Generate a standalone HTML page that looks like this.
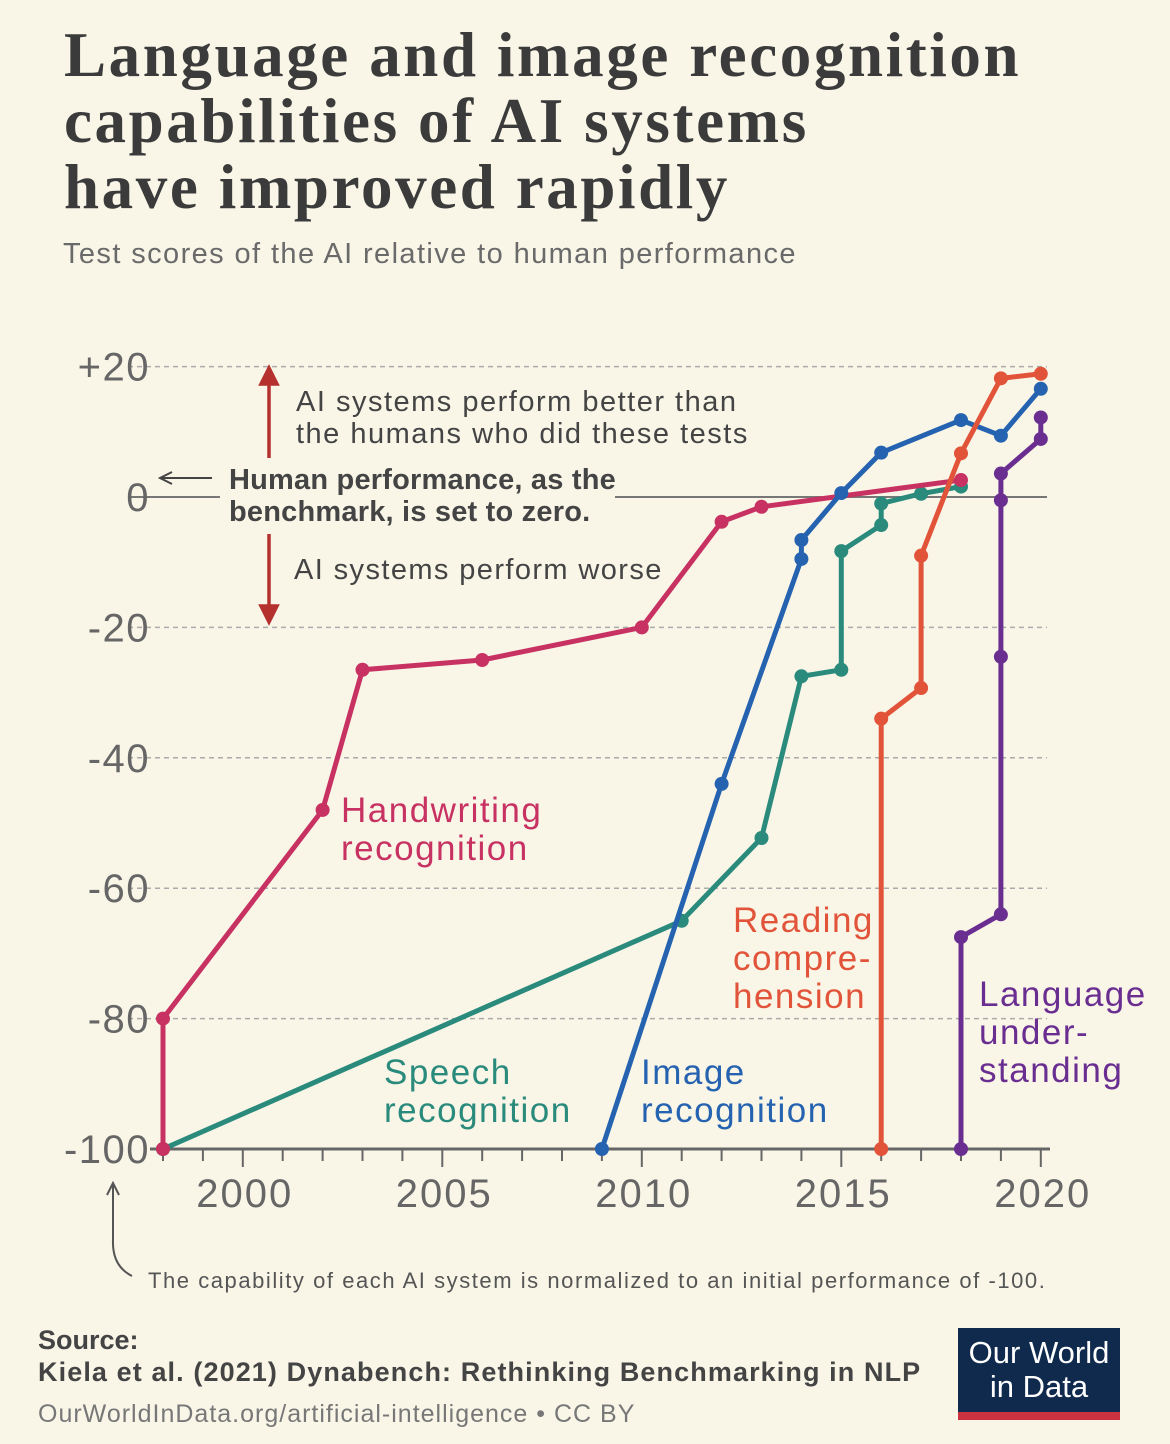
<!DOCTYPE html>
<html><head><meta charset="utf-8"><style>
body{margin:0;background:#f9f6e8;}
#root{position:relative;width:1170px;height:1444px;background:#f9f6e8;font-family:"Liberation Sans",sans-serif;overflow:hidden}
.t{position:absolute;margin:0}
</style></head><body>
<div id="root">
<h1 class="t" style="left:64px;top:22px;font-family:'Liberation Serif',serif;font-weight:bold;font-size:63px;line-height:66px;color:#3b3b3b;letter-spacing:2.6px">Language and image recognition<br>capabilities of AI systems<br>have improved rapidly</h1>
<div class="t" style="left:63px;top:238px;font-size:29px;color:#6a6a6a;letter-spacing:1.4px">Test scores of the AI relative to human performance</div>
<svg id="chart" width="1170" height="1444" style="position:absolute;left:0;top:0" font-family="Liberation Sans, sans-serif"></svg>
<div class="t" style="left:38px;top:1325px;font-size:27px;font-weight:bold;color:#444">Source:</div>
<div class="t" style="left:38px;top:1357px;font-size:27px;font-weight:bold;color:#444;letter-spacing:1.1px">Kiela et al. (2021) Dynabench: Rethinking Benchmarking in NLP</div>
<div class="t" style="left:38px;top:1400px;font-size:25px;color:#777;letter-spacing:1px">OurWorldInData.org/artificial-intelligence • CC BY</div>
<div class="t" style="left:958px;top:1328px;width:162px;height:92px;background:#0f2a4d;border-bottom:8px solid #c9323e;box-sizing:border-box;color:#fff;font-size:31px;line-height:34px;text-align:center;padding-top:8px">Our World<br>in Data</div>
</div>
<script>
const years=[2000,2005,2010,2015,2020];
const yTicks=[20,0,-20,-40,-60,-80,-100];
const yTickLabels=["+20","0","-20","-40","-60","-80","-100"];
const handX=[1998,1998,2002,2003,2006,2010,2012,2013,2018];
const handY=[-100,-80,-48,-26.5,-25,-20,-3.8,-1.5,2.6];
const speechX=[1998,2011,2013,2014,2015,2015,2016,2016,2017,2018];
const speechY=[-100,-65,-52.3,-27.5,-26.5,-8.3,-4.3,-1,0.5,1.6];
const imageX=[2009,2012,2014,2014,2015,2016,2018,2019,2020];
const imageY=[-100,-44,-9.5,-6.6,0.6,6.8,11.8,9.4,16.6];
const readX=[2016,2016,2017,2017,2018,2019,2020];
const readY=[-100,-34,-29.3,-9,6.7,18.2,18.9];
const langX=[2018,2018,2019,2019,2019,2019,2020,2020];
const langY=[-100,-67.5,-64,-24.5,-0.5,3.6,8.9,12.2];
const NS="http://www.w3.org/2000/svg";
const svg=document.getElementById('chart');
const xs=y=>163+(y-1998)*39.9;
const ys=v=>497-v*6.52;
function mk(t,a,p){const e=document.createElementNS(NS,t);for(const k in a)e.setAttribute(k,a[k]);(p||svg).appendChild(e);return e;}
yTicks.forEach((v,i)=>{
  if(v===0){
    const l1=mk('line',{x1:128,x2:220,y1:ys(0),y2:ys(0),stroke:'#777','stroke-width':2});
    
    const l2=mk('line',{x1:615,x2:1047,y1:ys(0),y2:ys(0),stroke:'#777','stroke-width':2});
    
  } else if(v!==-100){
    const g=mk('line',{x1:128,x2:1047,y1:ys(v),y2:ys(v),stroke:'#aaa','stroke-width':1.5,'stroke-dasharray':'5,4'});
    
  }
  const t=mk('text',{x:150,y:ys(v)+14,'text-anchor':'end','font-size':40,fill:'#666','letter-spacing':1.5});
  t.textContent=yTickLabels[i];
  
});
const ax=mk('line',{x1:150,x2:1050,y1:ys(-100),y2:ys(-100),stroke:'#666','stroke-width':3});

for(let y=1998;y<=2020;y++){
  const tk=mk('line',{x1:xs(y),x2:xs(y),y1:ys(-100),y2:ys(-100)+(years.includes(y)?18:12),stroke:'#666','stroke-width':2});
  
}
years.forEach(y=>{
  const t=mk('text',{x:xs(y)+2,y:1207,'text-anchor':'middle','font-size':40,fill:'#666','letter-spacing':2});
  t.textContent=y;
  
});
function series(X,Y,color,name){
  const pts=X.map((x,i)=>xs(x)+','+ys(Y[i])).join(' ');
  const p=mk('polyline',{points:pts,fill:'none',stroke:color,'stroke-width':5,'stroke-linejoin':'round'});
  
  X.forEach((x,i)=>{const c=mk('circle',{cx:xs(x),cy:ys(Y[i]),r:7,fill:color});
    });
}
series(speechX,speechY,'#2a8a7c','speech');
series(handX,handY,'#c83262','handwriting');
series(imageX,imageY,'#2563b0','image');
series(readX,readY,'#e2543a','reading');
series(langX,langY,'#6a2e91','language');
function label(x,y,lines,color,name,size,weight,ls){
  const t=mk('text',{x:x,y:y,'font-size':size||35,fill:color,'font-weight':weight||'normal','letter-spacing':ls||1.5});
  lines.forEach((s,i)=>{const ts=mk('tspan',{x:x,dy:i?size?size*1.1:38:0},t);ts.textContent=s;});
  
}
label(341,822,['Handwriting','recognition'],'#c83262','handwriting-label');
label(384,1084,['Speech','recognition'],'#2a8a7c','speech-label');
label(641,1084,['Image','recognition'],'#2563b0','image-label');
label(733,932,['Reading','compre-','hension'],'#e2543a','reading-label');
label(979,1006,['Language','under-','standing'],'#6a2e91','language-label');
label(296,411,['AI systems perform better than','the humans who did these tests'],'#444','better-annotation',29,'normal',1.5);
label(229,489,['Human performance, as the','benchmark, is set to zero.'],'#444','zero-annotation',29,'bold',0.2);
label(294,579,['AI systems perform worse'],'#444','worse-annotation',29,'normal',1.4);
const a1=mk('path',{d:'M269,458 L269,380 M261,384 L269,368 L277,384 Z',stroke:'#b5312e','stroke-width':3.5,fill:'#b5312e'});

const a2=mk('path',{d:'M269,534 L269,610 M261,606 L269,622 L277,606 Z',stroke:'#b5312e','stroke-width':3.5,fill:'#b5312e'});

const a3=mk('path',{d:'M212,478 L162,478 M172,472 L160,478 L172,484',stroke:'#444','stroke-width':2,fill:'none'});

const a4=mk('path',{d:'M132,1276 Q112,1266 113,1240 L113,1185 M107,1195 L113,1183 L119,1195',stroke:'#555','stroke-width':2,fill:'none'});

label(148,1288,['The capability of each AI system is normalized to an initial performance of -100.'],'#555','footnote',22,'normal',1.55);
</script>
</body></html>
